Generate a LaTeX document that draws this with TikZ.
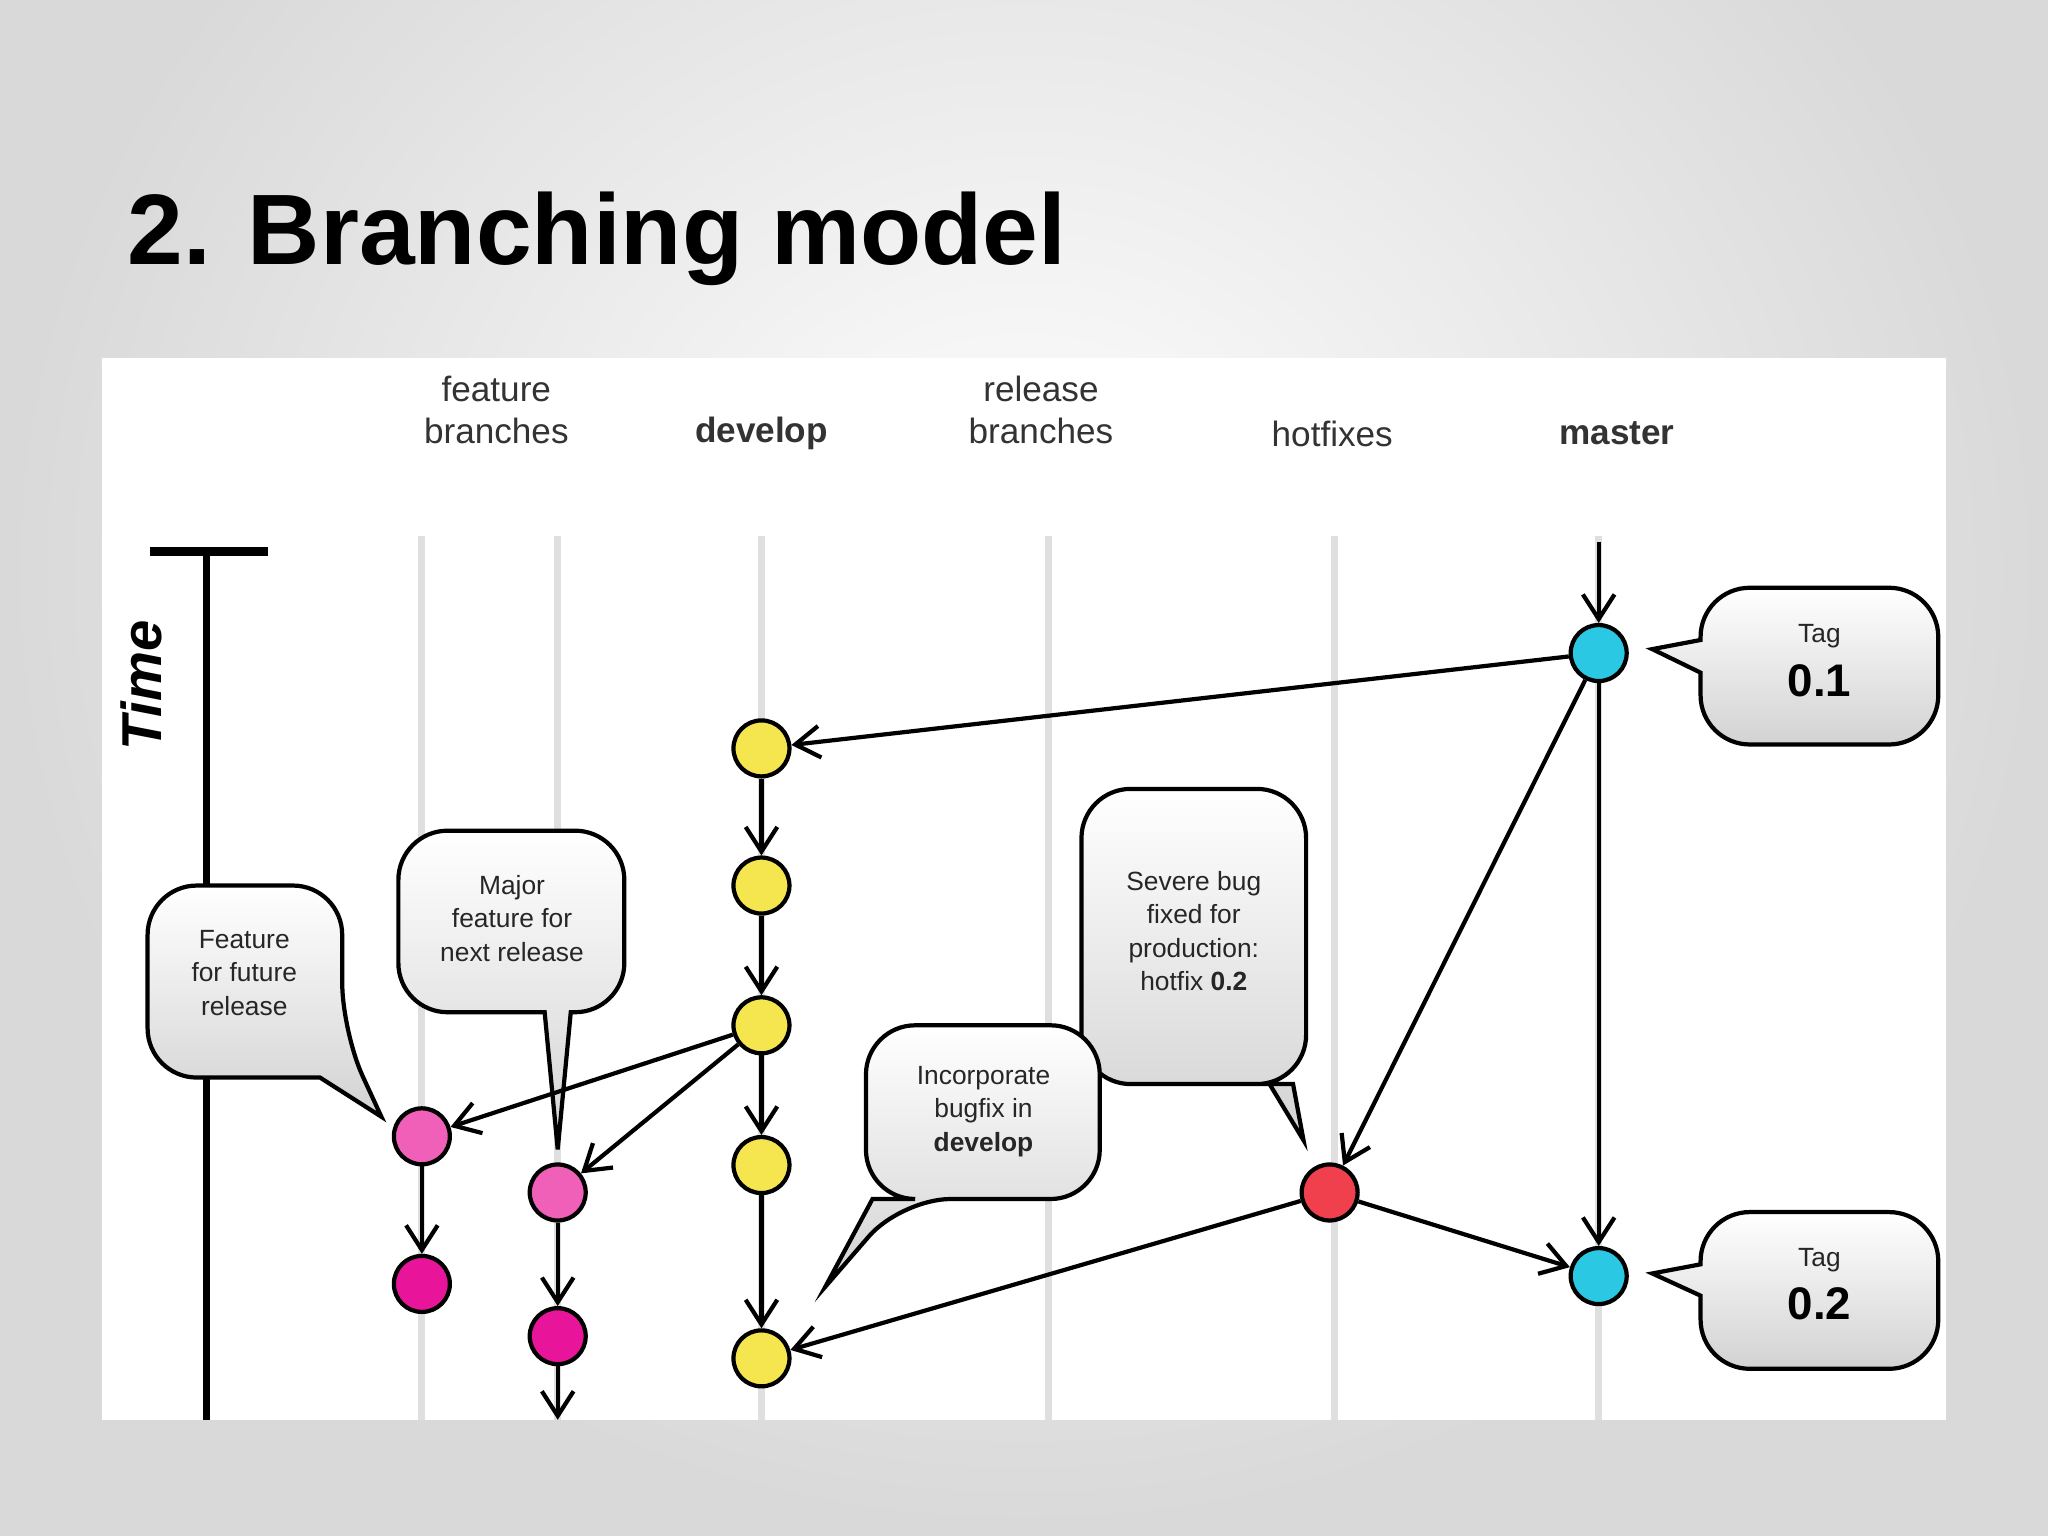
\documentclass[tikz,border=0pt]{standalone}
\usepackage{fontspec}
\setmainfont{Liberation Sans}
\usetikzlibrary{arrows.meta}
\definecolor{cyn}{HTML}{2BC8E4}
\definecolor{ylw}{HTML}{F5E650}
\definecolor{pnk}{HTML}{F05FB8}
\definecolor{mgt}{HTML}{E8159A}
\definecolor{red2}{HTML}{F0404E}
\begin{document}
\begin{tikzpicture}[x=0.013061cm,y=-0.013061cm,
  dot/.style={circle,draw=black,line width=1.2pt,minimum size=0.56cm,inner sep=0pt},
  yel/.style={dot,fill=ylw},
  cy/.style={dot,fill=cyn},
  pk/.style={dot,fill=pnk},
  mg/.style={dot,fill=mgt},
  rd/.style={dot,fill=red2},
  arr/.style={line width=1.2pt,-{Straight Barb[length=7pt,width=9pt,line width=1.2pt]}},
  lane/.style={line width=2pt,gray!25},
  hdr/.style={font=\fontsize{10pt}{12pt}\selectfont,text=black!80,align=center},
  call/.style={line width=1.2pt,draw=black,top color=white,bottom color=gray!35,rounded corners=14pt},
  ctext/.style={font=\fontsize{7.5pt}{9.5pt}\selectfont,align=center,text=black!85}]
\useasboundingbox (0,0) rectangle (1568,1176);
\shade[inner color=white,outer color=gray!30] (0,-300) rectangle (1568,1176);
\node[anchor=west,font=\bfseries\fontsize{28.5pt}{32pt}\selectfont] (title) at (88,183) {2. Branching model};
\fill[white] (78,274) rectangle (1490,1087);
% headers
\node[hdr] (h1) at (380,314) {feature\\branches};
\node[hdr,font=\bfseries\fontsize{10pt}{12pt}\selectfont] (h2) at (583,332) {develop};
\node[hdr] (h3) at (797,314) {release\\branches};
\node[hdr] (h4) at (1020,332) {hotfixes};
\node[hdr,font=\bfseries\fontsize{10pt}{12pt}\selectfont] (h5) at (1238,332) {master};
% lanes
\foreach \x in {323,427,583,803,1022,1224} \draw[lane] (\x,410) -- (\x,1087);
% time
\draw[line width=2.2pt] (158,420) -- (158,1087);
\draw[line width=2.5pt] (115,422) -- (205,422);
\node[rotate=90,font=\bfseries\itshape\fontsize{16pt}{18pt}\selectfont] (time) at (108,525) {Time};
% callouts
\path[call] (1302,450) -- (1484,450) -- (1484,570) -- (1302,570) [sharp corners] -- (1302,515) -- (1265,497) -- (1302,490) [rounded corners=14pt] -- cycle;
\node[ctext] (t1a) at (1393,487) {Tag};
\node[font=\bfseries\fontsize{13pt}{16pt}\selectfont] (t1b) at (1393,521) {0.1};
\path[call] (1302,928) -- (1484,928) -- (1484,1048) -- (1302,1048) [sharp corners] -- (1302,992) -- (1265,975) -- (1302,968) [rounded corners=14pt] -- cycle;
\node[ctext] (t2a) at (1393,965) {Tag};
\node[font=\bfseries\fontsize{13pt}{16pt}\selectfont] (t2b) at (1393,998) {0.2};
\path[call] (828,604) -- (1000,604) -- (1000,830) [sharp corners] -- (990,830) -- (998,873) -- (972,830) [rounded corners=14pt] -- (828,830) -- cycle;
\node[ctext] (sb) at (914,713) {Severe bug\\fixed for\\production:\\hotfix \textbf{0.2}};
\path[call] (663,785) -- (842,785) -- (842,918) -- (690,918) [sharp corners] -- (632,985) -- (668,918) [rounded corners=14pt] -- (663,918) -- cycle;
\node[ctext] (ib) at (753,851) {Incorporate\\bugfix in\\\textbf{develop}};
\path[call] (305,636) -- (478,636) -- (478,775) [sharp corners] -- (437,775) -- (427,880) -- (417,775) [rounded corners=14pt] -- (305,775) -- cycle;
\node[ctext] (mf) at (392,703) {Major\\feature for\\next release};
\path[call] (113,678) -- (262,678) -- (262,790) [sharp corners] -- (292,855) -- (245,825) [rounded corners=14pt] -- (113,825) -- cycle;
\node[ctext] (ff) at (187,745) {Feature\\for future\\release};
% nodes
\node[cy] (m1) at (1224,500) {};
\node[cy] (m2) at (1224,977) {};
\node[yel] (d1) at (583,573) {};
\node[yel] (d2) at (583,678) {};
\node[yel] (d3) at (583,785) {};
\node[yel] (d4) at (583,892) {};
\node[yel] (d5) at (583,1040) {};
\node[pk] (f1) at (323,870) {};
\node[mg] (f2) at (323,983) {};
\node[pk] (f3) at (427,913) {};
\node[mg] (f4) at (427,1023) {};
\node[rd] (hf) at (1018,913) {};
\coordinate (mtop) at (1224,415);
\coordinate (fend) at (427,1087);
% arrows
\draw[arr] (mtop) -- (m1);
\draw[arr] (m1) -- (d1);
\draw[arr] (d1) -- (d2);
\draw[arr] (d2) -- (d3);
\draw[arr] (d3) -- (d4);
\draw[arr] (d4) -- (d5);
\draw[arr] (m1) -- (m2);
\draw[arr] (m1) -- (hf);
\draw[arr] (hf) -- (m2);
\draw[arr] (hf) -- (d5);
\draw[arr] (d3) -- (f1);
\draw[arr] (d3) -- (f3);
\draw[arr] (f1) -- (f2);
\draw[arr] (f3) -- (f4);
\draw[arr] (f4) -- (fend);
\end{tikzpicture}
\end{document}
